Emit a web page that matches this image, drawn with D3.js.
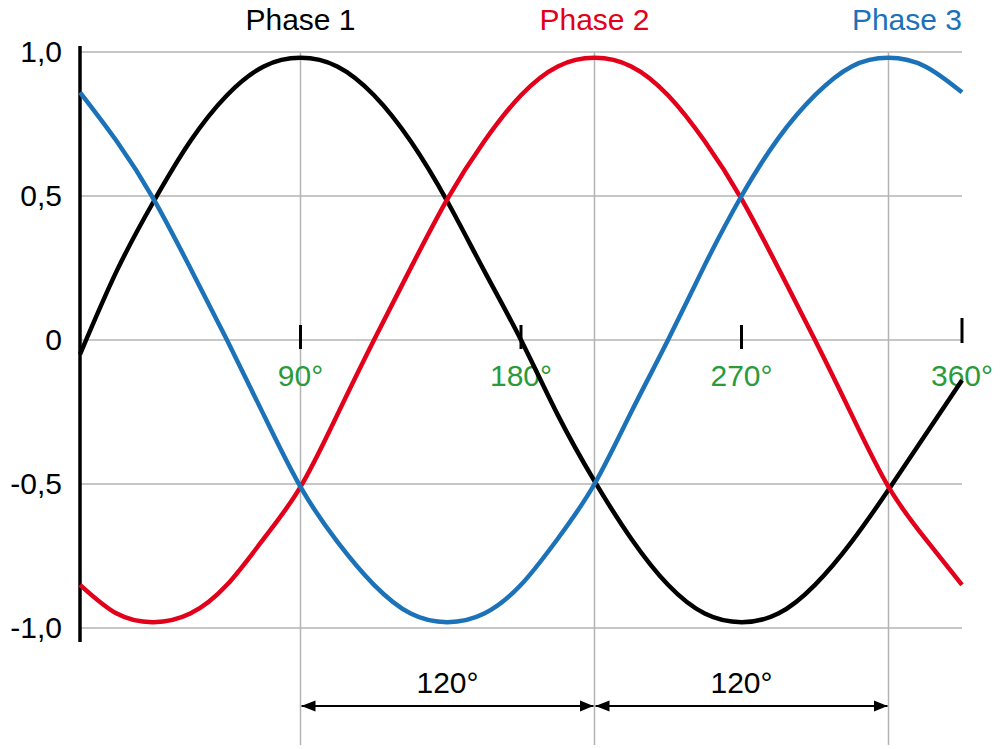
<!DOCTYPE html>
<html><head><meta charset="utf-8">
<script src="https://cdn.jsdelivr.net/npm/d3@7"></script>
<style>body{margin:0;background:#fff}text{font-family:"Liberation Sans",Arial,sans-serif}</style>
</head><body>
<svg id="c" width="1002" height="749"></svg>
<script>
// angles in degrees
const angles = [0,15,30,45,60,75,90,105,120,135,150,165,180,195,210,225,240,255,270,285,300,315,330,345,360]
const phase1 = [-0.05,0.24,0.48,0.69,0.85,0.95,0.98,0.95,0.85,0.69,0.48,0.24,0.0,-0.26,-0.49,-0.69,-0.85,-0.95,-0.98,-0.95,-0.85,-0.7,-0.52,-0.33,-0.14]
const phase2 = [-0.85,-0.95,-0.98,-0.95,-0.85,-0.69,-0.51,-0.26,0.0,0.25,0.49,0.69,0.85,0.95,0.98,0.95,0.85,0.69,0.49,0.25,0.0,-0.26,-0.51,-0.69,-0.85]
const phase3 = [0.86,0.69,0.49,0.25,0.0,-0.26,-0.51,-0.7,-0.85,-0.95,-0.98,-0.95,-0.85,-0.69,-0.5,-0.25,0.0,0.26,0.5,0.7,0.85,0.95,0.98,0.95,0.86]
const yTicks = [1, 0.5, 0, -0.5, -1]
const yLabels = ["1,0","0,5","0","-0,5","-1,0"]
const degTicks = [90,180,270,360]
const gridX = [90,210,330]
const names = ["Phase 1","Phase 2","Phase 3"]
const colors = ["#000000","#e2001a","#1c72b8"]

const svg = d3.select("#c")
const x = d3.scaleLinear().domain([0,360]).range([80,962])
const y = d3.scaleLinear().domain([-1,1]).range([628,52])

// grid
svg.selectAll(".hg").data(yTicks).enter().append("line")
  .attr("x1",80).attr("x2",962).attr("y1",d=>y(d)).attr("y2",d=>y(d))
  .attr("stroke","#b4b4b4").attr("stroke-width",1.5)
svg.selectAll(".vg").data(gridX).enter().append("line")
  .attr("x1",d=>x(d)).attr("x2",d=>x(d)).attr("y1",y(1)).attr("y2",745)
  .attr("stroke","#b4b4b4").attr("stroke-width",1.5)

// y axis
svg.append("line").attr("x1",80).attr("x2",80).attr("y1",46).attr("y2",642)
  .attr("stroke","#000").attr("stroke-width",3.5)
svg.selectAll(".yl").data(yTicks).enter().append("text")
  .attr("x",62).attr("y",d=>y(d)+10).attr("text-anchor","end")
  .attr("font-size",30).text((d,i)=>yLabels[i])

// degree ticks
svg.selectAll(".dt").data(degTicks).enter().append("line")
  .attr("x1",d=>x(d)).attr("x2",d=>x(d))
  .attr("y1",d=>d===360?y(0)-22:y(0)-15).attr("y2",d=>d===360?y(0)+3:y(0)+9)
  .attr("stroke","#000").attr("stroke-width",3)
svg.selectAll(".dl").data(degTicks).enter().append("text")
  .attr("x",d=>x(d)).attr("y",y(0)+46).attr("text-anchor","middle")
  .attr("font-size",30).attr("fill","#2a9a3a").text(d=>d+"°")

// curves
const line = d3.line().x((d,i)=>x(angles[i])).y(d=>y(d)).curve(d3.curveNatural)
;[phase1,phase2,phase3].forEach((s,i)=>{
  svg.append("path").datum(s).attr("d",line).attr("fill","none")
    .attr("stroke",colors[i]).attr("stroke-width",4.5)
})

// phase labels
svg.selectAll(".pl").data(names).enter().append("text")
  .attr("x",(d,i)=>i===2?962:x(gridX[i])).attr("y",30)
  .attr("text-anchor",(d,i)=>i===2?"end":"middle")
  .attr("font-size",30).attr("fill",(d,i)=>colors[i]).text(d=>d)

// 120° dimension arrows
const defs = svg.append("defs")
defs.append("marker").attr("id","ah").attr("viewBox","0 0 10 10").attr("refX",10).attr("refY",5)
  .attr("markerWidth",7).attr("markerHeight",7).attr("orient","auto-start-reverse")
  .append("path").attr("d","M0,1L10,5L0,9z").attr("fill","#000")
const spans = [[90,210],[210,330]]
spans.forEach(s=>{
  svg.append("line").attr("x1",x(s[0])+1).attr("x2",x(s[1])-1).attr("y1",706).attr("y2",706)
    .attr("stroke","#000").attr("stroke-width",2)
    .attr("marker-start","url(#ah)").attr("marker-end","url(#ah)")
  svg.append("text").attr("x",(x(s[0])+x(s[1]))/2).attr("y",693).attr("text-anchor","middle")
    .attr("font-size",30).text("120°")
})
</script>
</body></html>
